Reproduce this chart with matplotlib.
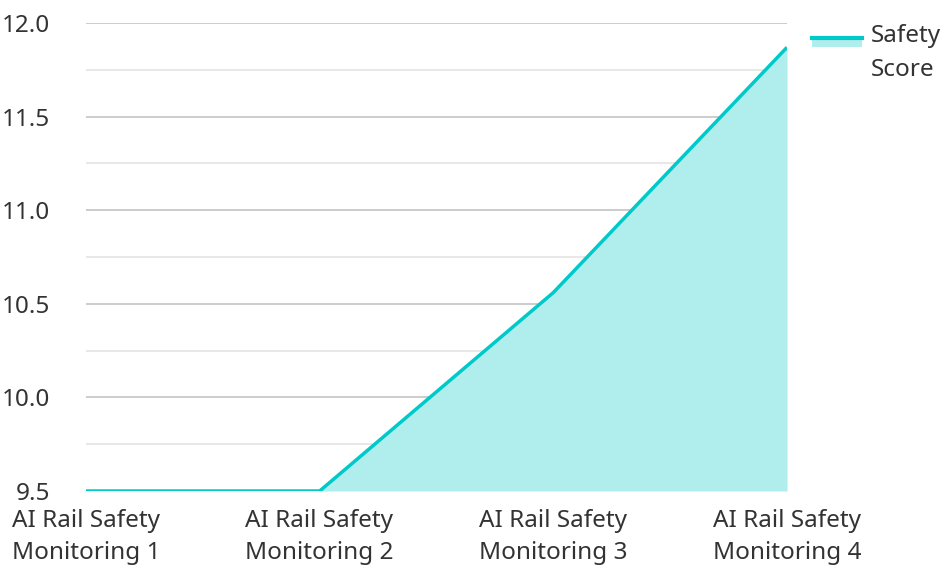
import numpy as np
import matplotlib.pyplot as plt
from matplotlib.patches import Rectangle
from matplotlib.lines import Line2D

plt.rcParams['font.family'] = ['Noto Sans', 'DejaVu Sans']

categories = ["AI Rail Safety\nMonitoring 1", "AI Rail Safety\nMonitoring 2",
              "AI Rail Safety\nMonitoring 3", "AI Rail Safety\nMonitoring 4"]
safety_score = [9.5, 9.5, 10.56, 11.87]
series_name = "Safety\nScore"

line_col = "#00c9c9"
fill_col = "#b0eded"
text_col = "#333333"
fs = 17.5

W, H = 945, 566
fig = plt.figure(figsize=(W / 100, H / 100), dpi=100)
ax = fig.add_axes([86 / W, 1 - 491 / H, (787 - 86) / W, (491 - 23) / H])

x = np.arange(len(categories))
ax.fill_between(x, 9.5, safety_score, color=fill_col, linewidth=0, zorder=2)
ax.plot(x, safety_score, color=line_col, linewidth=2.5, zorder=3, solid_capstyle='butt')

ax.set_xlim(0, len(categories) - 1)
ax.set_ylim(9.5, 12.0)
ax.set_yticks([9.5, 10.0, 10.5, 11.0, 11.5, 12.0])
ax.set_yticks([9.75, 10.25, 10.75, 11.25, 11.75], minor=True)
ax.grid(axis='y', which='major', color='#c8c8c8', linewidth=1.3, zorder=1)
ax.grid(axis='y', which='minor', color='#e6e6e6', linewidth=1.3, zorder=1)
ax.set_xticks(x)
ax.set_xticklabels(categories, multialignment='left', linespacing=1.45)
ax.tick_params(axis='both', which='both', length=0, labelsize=fs, colors=text_col)
ax.tick_params(axis='y', pad=26)
ax.tick_params(axis='x', pad=13)
for s in ax.spines.values():
    s.set_visible(False)

# legend drawn by hand: fill swatch with the line on its top edge
fig.add_artist(Rectangle((812 / W, 1 - 47 / H), 50 / W, 9 / H,
                         transform=fig.transFigure, facecolor=fill_col, edgecolor='none'))
fig.add_artist(Line2D([812 / W, 862 / W], [1 - 38 / H, 1 - 38 / H],
                      transform=fig.transFigure, color=line_col, linewidth=3))
fig.text(871 / W, 1 - 24 / H, series_name, va='top', ha='left', fontsize=fs,
         color=text_col, linespacing=1.55)

fig.savefig("out.png", dpi=100)
